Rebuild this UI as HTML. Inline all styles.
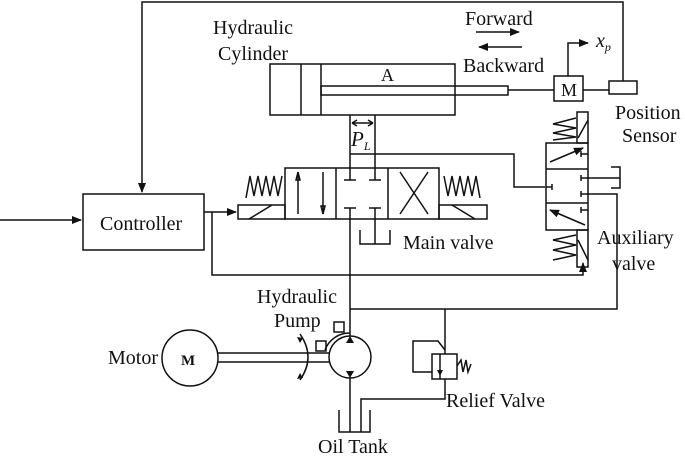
<!DOCTYPE html>
<html><head><style>body{margin:0;background:#fff}svg{display:block}text{font-family:"Liberation Serif",serif;fill:#111}</style></head><body>
<svg width="685" height="456" viewBox="0 0 685 456" xmlns="http://www.w3.org/2000/svg">
<defs><marker id="a" markerWidth="10" markerHeight="8" refX="9" refY="4" orient="auto" markerUnits="userSpaceOnUse"><path d="M0,0L10,4L0,8z" fill="#111"/></marker></defs>
<g stroke="#111" stroke-width="1.5" fill="none">
<path d="M623,81V2H142V192" marker-end="url(#a)"/>
<path d="M0,220H81" marker-end="url(#a)"/>
<rect x="83" y="194" width="121" height="56"/>
<path d="M204,212H236" marker-end="url(#a)"/>
<path d="M212,212V275H583V263" marker-end="url(#a)"/>
<rect x="270" y="64" width="185" height="51"/>
<path d="M301,64V115M321,64V115"/>
<rect x="321" y="86" width="187" height="9"/>
<path d="M508,90H554"/>
<rect x="554" y="76" width="29" height="25"/>
<path d="M583,90H609"/>
<rect x="609" y="81" width="28" height="13"/>
<path d="M568,76V43H588" marker-end="url(#a)"/>
<path d="M476,32H519" marker-end="url(#a)"/>
<path d="M522,47H479" marker-end="url(#a)"/>
<path d="M350,115V168M375,115V168"/>
<path d="M352,123H373M352,123l5,-3M352,123l5,3M373,123l-5,-3M373,123l-5,3"/>
<path d="M350,154H514V187H545"/>
<rect x="285" y="168" width="154" height="51"/>
<path d="M336,168V219M388,168V219"/>
<path d="M298,172V214M323,172V214"/>
<path d="M298,172l-2,8h4z M323,214l-2,-8h4z"/>
<path d="M344,180H356M350,168V180M369,180H381M375,168V180"/>
<path d="M344,208H356M350,208V219M369,208H381M375,208V219"/>
<path d="M400,172L428,214M428,172L400,214"/>
<rect x="238" y="205" width="47" height="14"/>
<rect x="439" y="205" width="48" height="14"/>
<path d="M249,219L272,205M452,205L475,219"/>
<path d="M246,198L250,176L254,196L258,176L262,196L266,176L270,196L274,176L278,196L282,176"/>
<path d="M444,176L448,196L452,176L456,196L460,176L464,196L468,176L472,196L476,176L480,198"/>
<path d="M375,219V244M360,230V244H390V230"/>
<path d="M350,219V336"/>
<path d="M350,309H617V194H588"/>
<rect x="546" y="143" width="42" height="87"/>
<path d="M546,169H588M546,203H588"/>
<rect x="577" y="112" width="11" height="31"/>
<rect x="577" y="230" width="11" height="37"/>
<path d="M578,138L588,120M578,240L588,260"/>
<path d="M576,118L553,124L576,128L553,133L576,137L553,140"/>
<path d="M576,235L553,240L576,245L553,250L576,255L553,260"/>
<path d="M550,162L583,148" marker-end="url(#a)"/>
<path d="M585,225L550,210" marker-end="url(#a)"/>
<path d="M581,151V157M581,154H588M581,175V181M581,178H588M581,191V197M581,194H588M581,207V213M581,210H588M552,184V190M546,187H552"/>
<path d="M588,178H620M611,167H620V188H611"/>
<circle cx="190" cy="358" r="28"/>
<circle cx="350" cy="357" r="21"/>
<path d="M218,353H330M218,362H330"/>
<path d="M325,350A26,26 0 0 1 350,333"/>
<path d="M300,334Q316,357 300,380"/>
<path d="M350,378V432M339,410V432H370V410"/>
<rect x="334" y="322" width="10" height="10"/>
<rect x="316" y="341" width="10" height="10"/>
<path d="M445,309V354M445,379V399H361V432"/>
<rect x="432" y="354" width="25" height="25"/>
<path d="M440,354V379"/>
<path d="M445,350L438,341H413V372H432"/>
<path d="M457,366L461,360L463,372L466,360L468,372L471,364"/>
</g>
<g fill="#111">
<path d="M350,336l-4,7h8z M350,378l-4,-7h8z M440,376l-3,-6h6z M303,338l-6,-1l3,6z M303,378l-6,1l3,-6z"/>
</g>
<g font-size="20">
<text x="213" y="34">Hydraulic</text>
<text x="218" y="60">Cylinder</text>
<text x="381" y="81" font-size="18">A</text>
<text x="465" y="25">Forward</text>
<text x="463" y="72">Backward</text>
<text x="596" y="47" font-style="italic">x<tspan font-size="12" dy="4">p</tspan></text>
<text x="561" y="96" font-size="18">M</text>
<text x="615" y="119">Position</text>
<text x="622" y="142">Sensor</text>
<text x="351" y="146" font-style="italic" font-size="21">P<tspan font-size="12" dy="4">L</tspan></text>
<text x="100" y="230">Controller</text>
<text x="403" y="249">Main valve</text>
<text x="597" y="244">Auxiliary</text>
<text x="612" y="270">valve</text>
<text x="257" y="303">Hydraulic</text>
<text x="274" y="327">Pump</text>
<text x="108" y="364">Motor</text>
<text x="181" y="365" font-size="15" font-weight="bold">M</text>
<text x="446" y="407">Relief Valve</text>
<text x="318" y="453">Oil Tank</text>
</g>
</svg>
</body></html>
